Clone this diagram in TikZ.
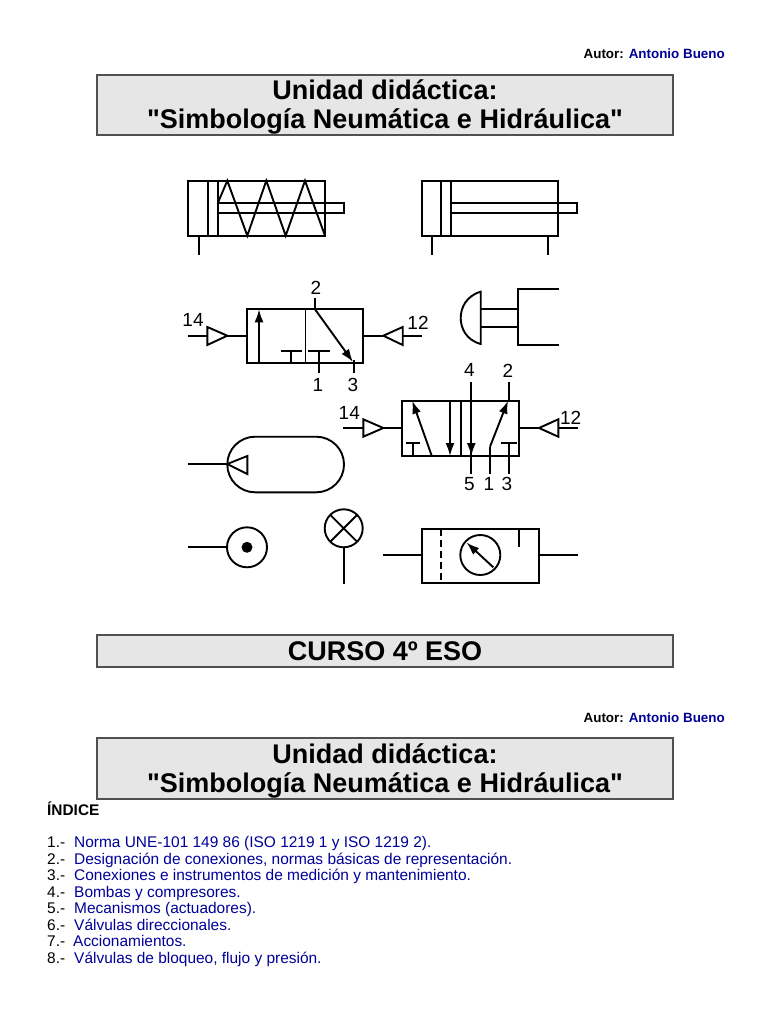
\documentclass[tikz,border=0pt]{standalone}
\usepackage{fontspec}
\setmainfont{Liberation Sans}[Ligatures=TeXOff]
\usetikzlibrary{arrows.meta}
\definecolor{navy}{HTML}{000099}
\definecolor{boxfill}{HTML}{E6E6E6}
\definecolor{boxline}{HTML}{505050}
\tikzset{
  sym/.style={line width=1.9pt,line join=miter,black},
  fine/.style={line width=1pt,black},
  head/.style={-{Latex[length=13pt,width=9pt]}},
  titlebox/.style={draw=boxline,fill=boxfill,line width=1.5pt},
  titletext/.style={font=\fontsize{27}{27}\selectfont\bfseries,anchor=base,inner sep=0pt},
  autor/.style={font=\fontsize{13.4}{14}\selectfont\bfseries,anchor=base east,inner sep=0pt},
  num/.style={font=\fontsize{19}{19}\selectfont,anchor=center,inner sep=0pt},
  item/.style={font=\fontsize{15.45}{16}\selectfont,anchor=base west,inner sep=0pt,text=navy},
  idx/.style={font=\fontsize{15.45}{16}\selectfont,anchor=base west,inner sep=0pt},
}
\begin{document}
\begin{tikzpicture}[x=1pt,y=-1pt]
\useasboundingbox (0,0) rectangle (768,1024);
\fill[white] (0,0) rectangle (768,1024);

% header
\node[autor] (autorA) at (725,59) {Autor: \textcolor{navy}{Antonio Bueno}};
\draw[titlebox] (97,75) rectangle (673,135);
\node[titletext] (t1a) at (385,100) {Unidad didáctica:};
\node[titletext] (t1b) at (385,129) {"Simbología Neumática e Hidráulica"};

% cylinder with spring
\draw[sym] (188.3,180.7) rectangle (325,235.7);
\draw[sym] (207.7,180.7) -- (207.7,235.7) (217.7,180.7) -- (217.7,235.7);
\draw[sym] (217.7,203.3) -- (344,203.3) -- (344,212.7) -- (217.7,212.7);
\draw[sym] (217.7,203.3) -- (227.3,180.7) -- (247.3,235.7) -- (266.3,180.7) -- (285.7,235.7) -- (305,180.7) -- (325,235.7);
\draw[sym] (198.7,235.7) -- (198.7,254.7);

% double-acting cylinder
\draw[sym] (421.7,180.7) rectangle (558.3,235.7);
\draw[sym] (441,180.7) -- (441,235.7) (451,180.7) -- (451,235.7);
\draw[sym] (451,203.3) -- (577.3,203.3) -- (577.3,212.7) -- (451,212.7);
\draw[sym] (431.7,235.7) -- (431.7,254.7) (547.7,235.7) -- (547.7,254.7);

% 3/2 valve
\draw[sym] (247.3,309.3) rectangle (363.3,363.3);
\draw[fine] (305,309.3) -- (305,363.3);
\draw[sym,head] (259,363.3) -- (259,309.3);
\draw[sym] (280.7,351.3) -- (301.7,351.3) (291.3,351.3) -- (291.3,363.3);
\draw[sym] (308.3,351.3) -- (330,351.3) (319,351.3) -- (319,373.3);
\draw[sym,head] (315,309.3) -- (353,362);
\draw[sym] (315,298.3) -- (315,309.3);
\draw[sym] (353.7,360) -- (353.7,373.3);
\draw[sym] (188.3,335.7) -- (207.3,335.7) (227.3,335.7) -- (247.3,335.7);
\draw[sym] (207.3,327) -- (227.3,335.7) -- (207.3,345) -- cycle;
\draw[sym] (363.3,335.7) -- (383.3,335.7) (402.7,335.7) -- (422.3,335.7);
\draw[sym] (402.7,327) -- (383.3,335.7) -- (402.7,345) -- cycle;
\node[num] (n14a) at (193,319.5) {14};
\node[num] (n12a) at (418,322.5) {12};
\node[num] (n2a) at (316,288) {2};
\node[num] (n1a) at (318,385) {1};
\node[num] (n3a) at (353,385) {3};

% push button
\draw[sym] (480.7,291.7) .. controls (466,296) and (460.7,308) .. (460.7,318) .. controls (460.7,328) and (466,340) .. (480.7,344) -- cycle;
\draw[sym] (480.7,309.3) -- (518.3,309.3) (480.7,327.3) -- (518.3,327.3);
\draw[sym] (558.7,289.3) -- (518.3,289.3) -- (518.3,345) -- (558.7,345);

% 5/2 valve
\draw[sym] (402.3,400.7) rectangle (519,455.7);
\draw[sym] (461,400.7) -- (461,455.7);
\draw[sym,head] (431.7,455.7) -- (412.2,400.7);
\draw[sym,head] (450,400.7) -- (450,456);
\draw[sym] (405.7,442.7) -- (420,442.7) (412.7,442.7) -- (412.7,455.7);
\draw[sym] (471.3,382.3) -- (471.3,474);
\draw[sym,head] (471.3,420) -- (471.3,456);
\draw[sym] (490,474) -- (490,446.7);
\draw[sym,head] (490,446.7) -- (508,400.7);
\draw[sym] (508.7,400.7) -- (508.7,382.3);
\draw[sym] (500.7,442.7) -- (516.7,442.7) (508.7,442.7) -- (508.7,474);
\draw[sym] (343.3,428) -- (363.3,428) (383.3,428) -- (402.3,428);
\draw[sym] (363.3,419.3) -- (383.3,428) -- (363.3,436.7) -- cycle;
\draw[sym] (519,428) -- (539,428) (558.3,428) -- (577.7,428);
\draw[sym] (558.3,419.3) -- (539,428) -- (558.3,436.7) -- cycle;
\node[num] (n14b) at (349.3,413) {14};
\node[num] (n12b) at (570.7,418) {12};
\node[num] (n4b) at (469.5,370) {4};
\node[num] (n2b) at (508,371) {2};
\node[num] (n5b) at (469.5,484) {5};
\node[num] (n1b) at (489,484) {1};
\node[num] (n3b) at (507,484) {3};

% tank
\draw[sym,rounded corners=27.8pt] (227.3,436.7) rectangle (344,492.3);
\draw[sym] (188.3,464) -- (227.3,464);
\draw[sym] (247.3,456) -- (227.3,464) -- (247.3,474) -- cycle;

% gauge with dot
\draw[sym] (247,547.3) circle[radius=20];
\fill (247,547.3) circle[radius=5.5];
\draw[sym] (188.3,547.3) -- (227,547.3);

% lamp
\draw[sym] (343.7,528.3) circle[radius=19];
\draw[sym] (330.3,514.9) -- (357.1,541.7) (357.1,514.9) -- (330.3,541.7);
\draw[sym] (343.7,547.3) -- (343.7,584);

% filter with gauge
\draw[sym] (421.7,529) rectangle (539,583);
\draw[sym,dash pattern=on 7pt off 4pt] (441,529) -- (441,583);
\draw[sym] (382.7,555) -- (421.7,555) (539,555) -- (577.7,555);
\draw[sym] (480.3,555) circle[radius=20];
\draw[sym,head] (493.3,567.3) -- (466.5,542.5);
\draw[sym] (518.7,529) -- (518.7,547.3);

% course box
\draw[titlebox] (97,635) rectangle (673,667);
\node[titletext] (t2) at (385,660) {CURSO 4º ESO};

% second page
\node[autor] (autorB) at (725,722) {Autor: \textcolor{navy}{Antonio Bueno}};
\draw[titlebox] (97,738) rectangle (673,799);
\node[titletext] (t3a) at (385,763) {Unidad didáctica:};
\node[titletext] (t3b) at (385,792) {"Simbología Neumática e Hidráulica"};

\node[idx,font=\fontsize{15.4}{16}\selectfont\bfseries] (indice) at (47,815) {ÍNDICE};
\foreach \n/\y/\tx/\t in {
 1/847/74/{Norma UNE-101 149 86 (ISO 1219 1 y ISO 1219 2).},
 2/864/74/{Designación de conexiones, normas básicas de representación.},
 3/880/74/{Conexiones e instrumentos de medición y mantenimiento.},
 4/897/74/{Bombas y compresores.},
 5/913/74/{Mecanismos (actuadores).},
 6/930/74/{Válvulas direccionales.},
 7/946/73/{Accionamientos.},
 8/963/74/{Válvulas de bloqueo, flujo y presión.}}{
  \node[idx] (num\n) at (47,\y) {\n.-};
  \node[item] (txt\n) at (\tx,\y) {\t};
}
\end{tikzpicture}
\end{document}
